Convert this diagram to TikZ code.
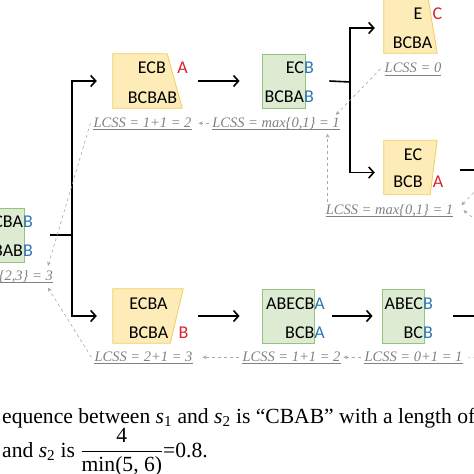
\documentclass[tikz,border=0pt]{standalone}
\usepackage{fontspec}
\usepackage{amsmath}
\usetikzlibrary{arrows.meta}
\setmainfont{Liberation Serif}
\newfontfamily\seqfont{Carlito}

\definecolor{trapfill}{HTML}{FDEBB8}
\definecolor{trapline}{HTML}{F2CD5C}
\definecolor{boxfill}{HTML}{DDEBD3}
\definecolor{boxline}{HTML}{93C47D}
\definecolor{missred}{HTML}{D9232D}
\definecolor{hitblue}{HTML}{2E75B6}
\definecolor{lcssgrey}{HTML}{808080}
\definecolor{backgrey}{HTML}{A8A8A8}

\begin{document}
\begin{tikzpicture}[x=1pt, y=-1pt]
        \tikzset{SeqStyle/.style={font=\seqfont\fontsize{18}{18}\selectfont, inner sep=0pt}}
        \tikzset{MissStyle/.style={SeqStyle, text=missred}}
        \tikzset{FrameStyle/.style={inner sep=0pt, minimum height=54pt}}
        \tikzset{MatchStyle/.style={FrameStyle, fill=boxfill, draw=boxline, line width=0.8pt}}
        \tikzset{TrapStyle/.style={fill=trapfill, draw=trapline, line width=0.8pt}}
        \tikzset{LcssStyle/.style={font=\itshape\fontsize{14.5}{14.5}\selectfont, text=lcssgrey,
            inner sep=0pt, text height=10pt, text depth=2.5pt, anchor=base}}
        \tikzset{CapStyle/.style={font=\fontsize{21.6}{21.6}\selectfont, inner sep=0pt, anchor=base west}}
        \tikzset{TreeLine/.style={line width=1.6pt}}
        \tikzset{TreeStyle/.style={TreeLine, -{Straight Barb[length=5pt, width=11pt]}}}
        \tikzset{BackStyle/.style={backgrey, dashed, line width=0.6pt, -{Stealth[length=4pt, width=4pt]}}}

        \useasboundingbox (0,0) rectangle (474,474);
        \clip (0,0) rectangle (474,474);

        % root and the matched (green) boxes
        \node[MatchStyle, minimum width=60pt] (G0) at (-6,235) {};
        \node[MatchStyle, minimum width=43pt] (G1) at (283.5,81) {};
        \node[MatchStyle, minimum width=52pt] (G2) at (288,316) {};
        \node[MatchStyle, minimum width=42pt] (G3) at (403,316) {};

        % mismatched (yellow) boxes
        \node[FrameStyle, minimum width=69pt] (T1) at (147.5,81) {};
        \node[FrameStyle, minimum width=70pt] (T2) at (148,316) {};
        \node[FrameStyle, minimum width=53pt] (T3) at (410.5,26) {};
        \node[FrameStyle, minimum width=53pt] (T4) at (410.5,167.5) {};
        \draw[TrapStyle] (T1.north west) -- ([xshift=-15pt]T1.north east) -- (T1.south east) -- (T1.south west) -- cycle;
        \draw[TrapStyle] (T2.north west) -- (T2.north east) -- ([xshift=-13pt]T2.south east) -- (T2.south west) -- cycle;
        \draw[TrapStyle] (T3.north west) -- ([xshift=-9pt]T3.north east) -- (T3.south east) -- (T3.south west) -- cycle;
        \draw[TrapStyle] (T4.north west) -- (T4.north east) -- ([xshift=-7pt]T4.south east) -- (T4.south west) -- cycle;

        % sequences
        \node[SeqStyle, anchor=east] (g0a) at (33,222) {ECBA\textcolor{hitblue}{B}};
        \node[SeqStyle, anchor=east] (g0b) at (33,251) {BCBAB\textcolor{hitblue}{B}};
        \node[SeqStyle, anchor=east] (g1a) at (314,68) {EC\textcolor{hitblue}{B}};
        \node[SeqStyle, anchor=east] (g1b) at (314,97) {BCBA\textcolor{hitblue}{B}};
        \node[SeqStyle, anchor=east] (g2a) at (325,304) {ABECB\textcolor{hitblue}{A}};
        \node[SeqStyle, anchor=east] (g2b) at (325,333) {BCB\textcolor{hitblue}{A}};
        \node[SeqStyle, anchor=east] (g3a) at (433,304) {ABEC\textcolor{hitblue}{B}};
        \node[SeqStyle, anchor=east] (g3b) at (433,333) {BC\textcolor{hitblue}{B}};

        \node[SeqStyle, anchor=east] (t1a) at (166,68) {ECB};
        \node[MissStyle] (t1x) at (182.5,68) {A};
        \node[SeqStyle] (t1b) at (152.5,98) {BCBAB};
        \node[SeqStyle] (t2a) at (148.5,304) {ECBA};
        \node[SeqStyle] (t2b) at (148.5,333) {BCBA};
        \node[MissStyle] (t2x) at (183.5,333) {B};
        \node[SeqStyle] (t3a) at (418,14) {E};
        \node[MissStyle] (t3x) at (437.5,14) {C};
        \node[SeqStyle] (t3b) at (412.5,43) {BCBA};
        \node[SeqStyle] (t4a) at (413,155) {EC};
        \node[SeqStyle] (t4b) at (408,182) {BCB};
        \node[MissStyle] (t4x) at (438,182) {A};

        % recursion tree
        \coordinate (f0) at (72,235);
        \coordinate (f1) at (350,82);
        \draw[TreeLine] (G0.east) ++(26,0) -- (f0);
        \draw[TreeStyle] (f0) |- ([xshift=-16pt]T1.west);
        \draw[TreeStyle] (f0) |- ([xshift=-16pt]T2.west);
        \draw[TreeStyle] ([xshift=16pt]T1.east) -- ([xshift=-22pt]G1.west);
        \draw[TreeStyle] ([xshift=15pt]T2.east) -- ([xshift=-22pt]G2.west);
        \draw[TreeStyle] ([xshift=18pt]G2.east) -- ([xshift=-9pt]G3.west);
        \draw[TreeLine] (G3.east) ++(29,0) -- ++(30,0);
        \draw[TreeLine] ([xshift=24pt]G1.east) -- (f1);
        \draw[TreeStyle] (f1) |- ([xshift=-9pt, yshift=-2pt]T3.west);
        \draw[TreeStyle] (f1) |- ([xshift=-9pt, yshift=-5pt]T4.west);
        \draw[TreeLine] (T4.east) ++(23,2.5) -- ++(30,0);

        % LCSS values
        \node[LcssStyle, anchor=base east] (L0) at (53,280) {LCSS = max\{2,3\} = 3};
        \node[LcssStyle] (L1) at (142.5,127) {LCSS = 1+1 = 2};
        \node[LcssStyle] (L2) at (276,127) {LCSS = max\{0,1\} = 1};
        \node[LcssStyle] (L3) at (413,72.5) {LCSS = 0};
        \node[LcssStyle] (L4) at (389.5,214) {LCSS = max\{0,1\} = 1};
        \node[LcssStyle] (L5) at (143.5,361) {LCSS = 2+1 = 3};
        \node[LcssStyle] (L6) at (291.5,361) {LCSS = 1+1 = 2};
        \node[LcssStyle] (L7) at (413.5,361) {LCSS = 0+1 = 1};
        \foreach \n in {L0,L1,L2,L3,L4,L5,L6,L7}
          \draw[lcssgrey, line width=0.9pt] (\n.south west) -- (\n.south east);

        % values passed back
        \coordinate (o6) at (482,184);
        \coordinate (o7) at (486,228);
        \coordinate (o10) at (500,361);
        \draw[BackStyle] ([xshift=-3pt]L1.west) -- ([xshift=-5pt, yshift=4pt]L0.north east);
        \draw[BackStyle] ([xshift=-3pt]L5.west) -- ([xshift=-5pt, yshift=-5pt]L0.south east);
        \draw[BackStyle] ([xshift=-3pt]L2.west) -- ([xshift=7pt]L1.east);
        \draw[BackStyle] ([xshift=-4pt]L3.west) -- ([xshift=-4pt, yshift=2pt]L2.north east);
        \coordinate (a5s) at ([xshift=2pt, yshift=2pt]L4.north west);
        \coordinate (a5e) at (a5s |- L2.south);
        \draw[BackStyle] (a5s) -- ([yshift=-4pt]a5e);
        \draw[BackStyle] (o6) -- ([xshift=8pt, yshift=5pt]L4.east);
        \draw[BackStyle] (o7) -- ([xshift=10pt]L4.east);
        \draw[BackStyle] ([xshift=-3pt]L6.west) -- ([xshift=10pt]L5.east);
        \draw[BackStyle] ([xshift=-3pt]L7.west) -- ([xshift=3pt]L6.east);
        \draw[BackStyle, -] (o10) -- ([xshift=6pt]L7.east);

        % caption
        \node[CapStyle] (cap1) at (2,423)
          {equence between \textit{s}\textsubscript{1} and \textit{s}\textsubscript{2} is “CBAB” with a length of};
        \node[CapStyle] (cap2) at (2,457)
          {and \textit{s}\textsubscript{2} is $\dfrac{\text{4}}{\text{min(5, 6)}}$=0.8.};
      \end{tikzpicture}
\end{document}
